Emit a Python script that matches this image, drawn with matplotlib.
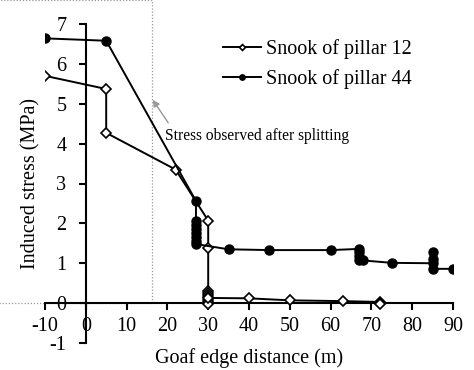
import matplotlib.pyplot as plt
from matplotlib.patches import Rectangle

plt.rcParams['font.family'] = ['Liberation Serif', 'DejaVu Serif']
plt.rcParams['axes.unicode_minus'] = False

# Snook of pillar 12 (open diamonds)
x12 = [-10, 5, 5, 22, 30, 30, 30, 30, 30, 30, 30, 30, 30, 30, 40, 50, 63, 72, 72, 72]
y12 = [5.7, 5.37, 4.27, 3.35, 2.07, 1.38, 0.3, 0.25, 0.2, 0.15, 0.08, 0.03, -0.02, 0.13,
       0.12, 0.07, 0.05, 0.03, 0.01, -0.01]

# Snook of pillar 44 (filled circles)
x44 = [-10, 5, 27, 27, 27, 27, 27, 27, 27, 27, 35, 45, 60, 67, 67, 67, 67, 68, 75, 85, 85, 85, 85, 90]
y44 = [6.64, 6.58, 2.56, 2.05, 1.95, 1.85, 1.75, 1.65, 1.55, 1.48, 1.35, 1.33, 1.33, 1.36,
       1.27, 1.17, 1.08, 1.07, 1.01, 1.0, 1.29, 1.1, 0.86, 0.86]

fig = plt.figure(figsize=(4.74, 3.70), dpi=100)
ax = fig.add_axes([45 / 474, 1 - 343 / 370, 408 / 474, 319 / 370])

ax.plot(x12, y12, color='black', lw=1.4, marker='D', ms=5, mfc='white', mec='black',
        mew=1.2, label='Snook of pillar 12', zorder=3)
ax.plot(x44, y44, color='black', lw=1.4, marker='o', ms=6.5, mfc='black', mec='black',
        label='Snook of pillar 44', zorder=3)

ax.set_xlim(-10, 90)
ax.set_ylim(-1, 7)
ax.set_xticks(range(-10, 91, 10))
ax.set_yticks(range(-1, 8))

ax.spines['left'].set_position(('data', 0))
ax.spines['bottom'].set_position(('data', 0))
ax.spines['top'].set_visible(False)
ax.spines['right'].set_visible(False)
for s in ('left', 'bottom'):
    ax.spines[s].set_linewidth(1.5)
ax.tick_params(direction='out', length=5, width=1.5, labelsize=14.5)
ax.tick_params(axis='x', pad=5)
ax.tick_params(axis='y', pad=9)

ax.set_xlabel('Goaf edge distance (m)', fontsize=14.5)
ax.set_ylabel('Induced stress (MPa)', fontsize=14.5)
ax.xaxis.set_label_coords(0.5, -0.015)
ax.yaxis.set_label_coords(-0.01, 0.5)

# dotted box marking the split region
ax.add_patch(Rectangle((-25, 0), 41.3, 7.6, fill=False, ls=(0, (1, 1.5)),
                       ec='#999999', lw=0.9, clip_on=False, zorder=1))

ax.annotate('Stress observed after splitting', xy=(16.4, 5.1), xytext=(19.3, 4.2),
            fontsize=11.2, va='center', ha='left',
            arrowprops=dict(arrowstyle='-|>', color='#999999', lw=1, shrinkA=0,
                            shrinkB=0, mutation_scale=10, relpos=(0.02, 1.3)))

leg = ax.legend(loc='upper left', bbox_to_anchor=(0.407, 0.99), frameon=False,
                fontsize=14.5, handlelength=1.9, labelspacing=0.5, markerscale=0.6,
                handletextpad=0.25, borderaxespad=0.2)

fig.savefig('out.png', dpi=100)
